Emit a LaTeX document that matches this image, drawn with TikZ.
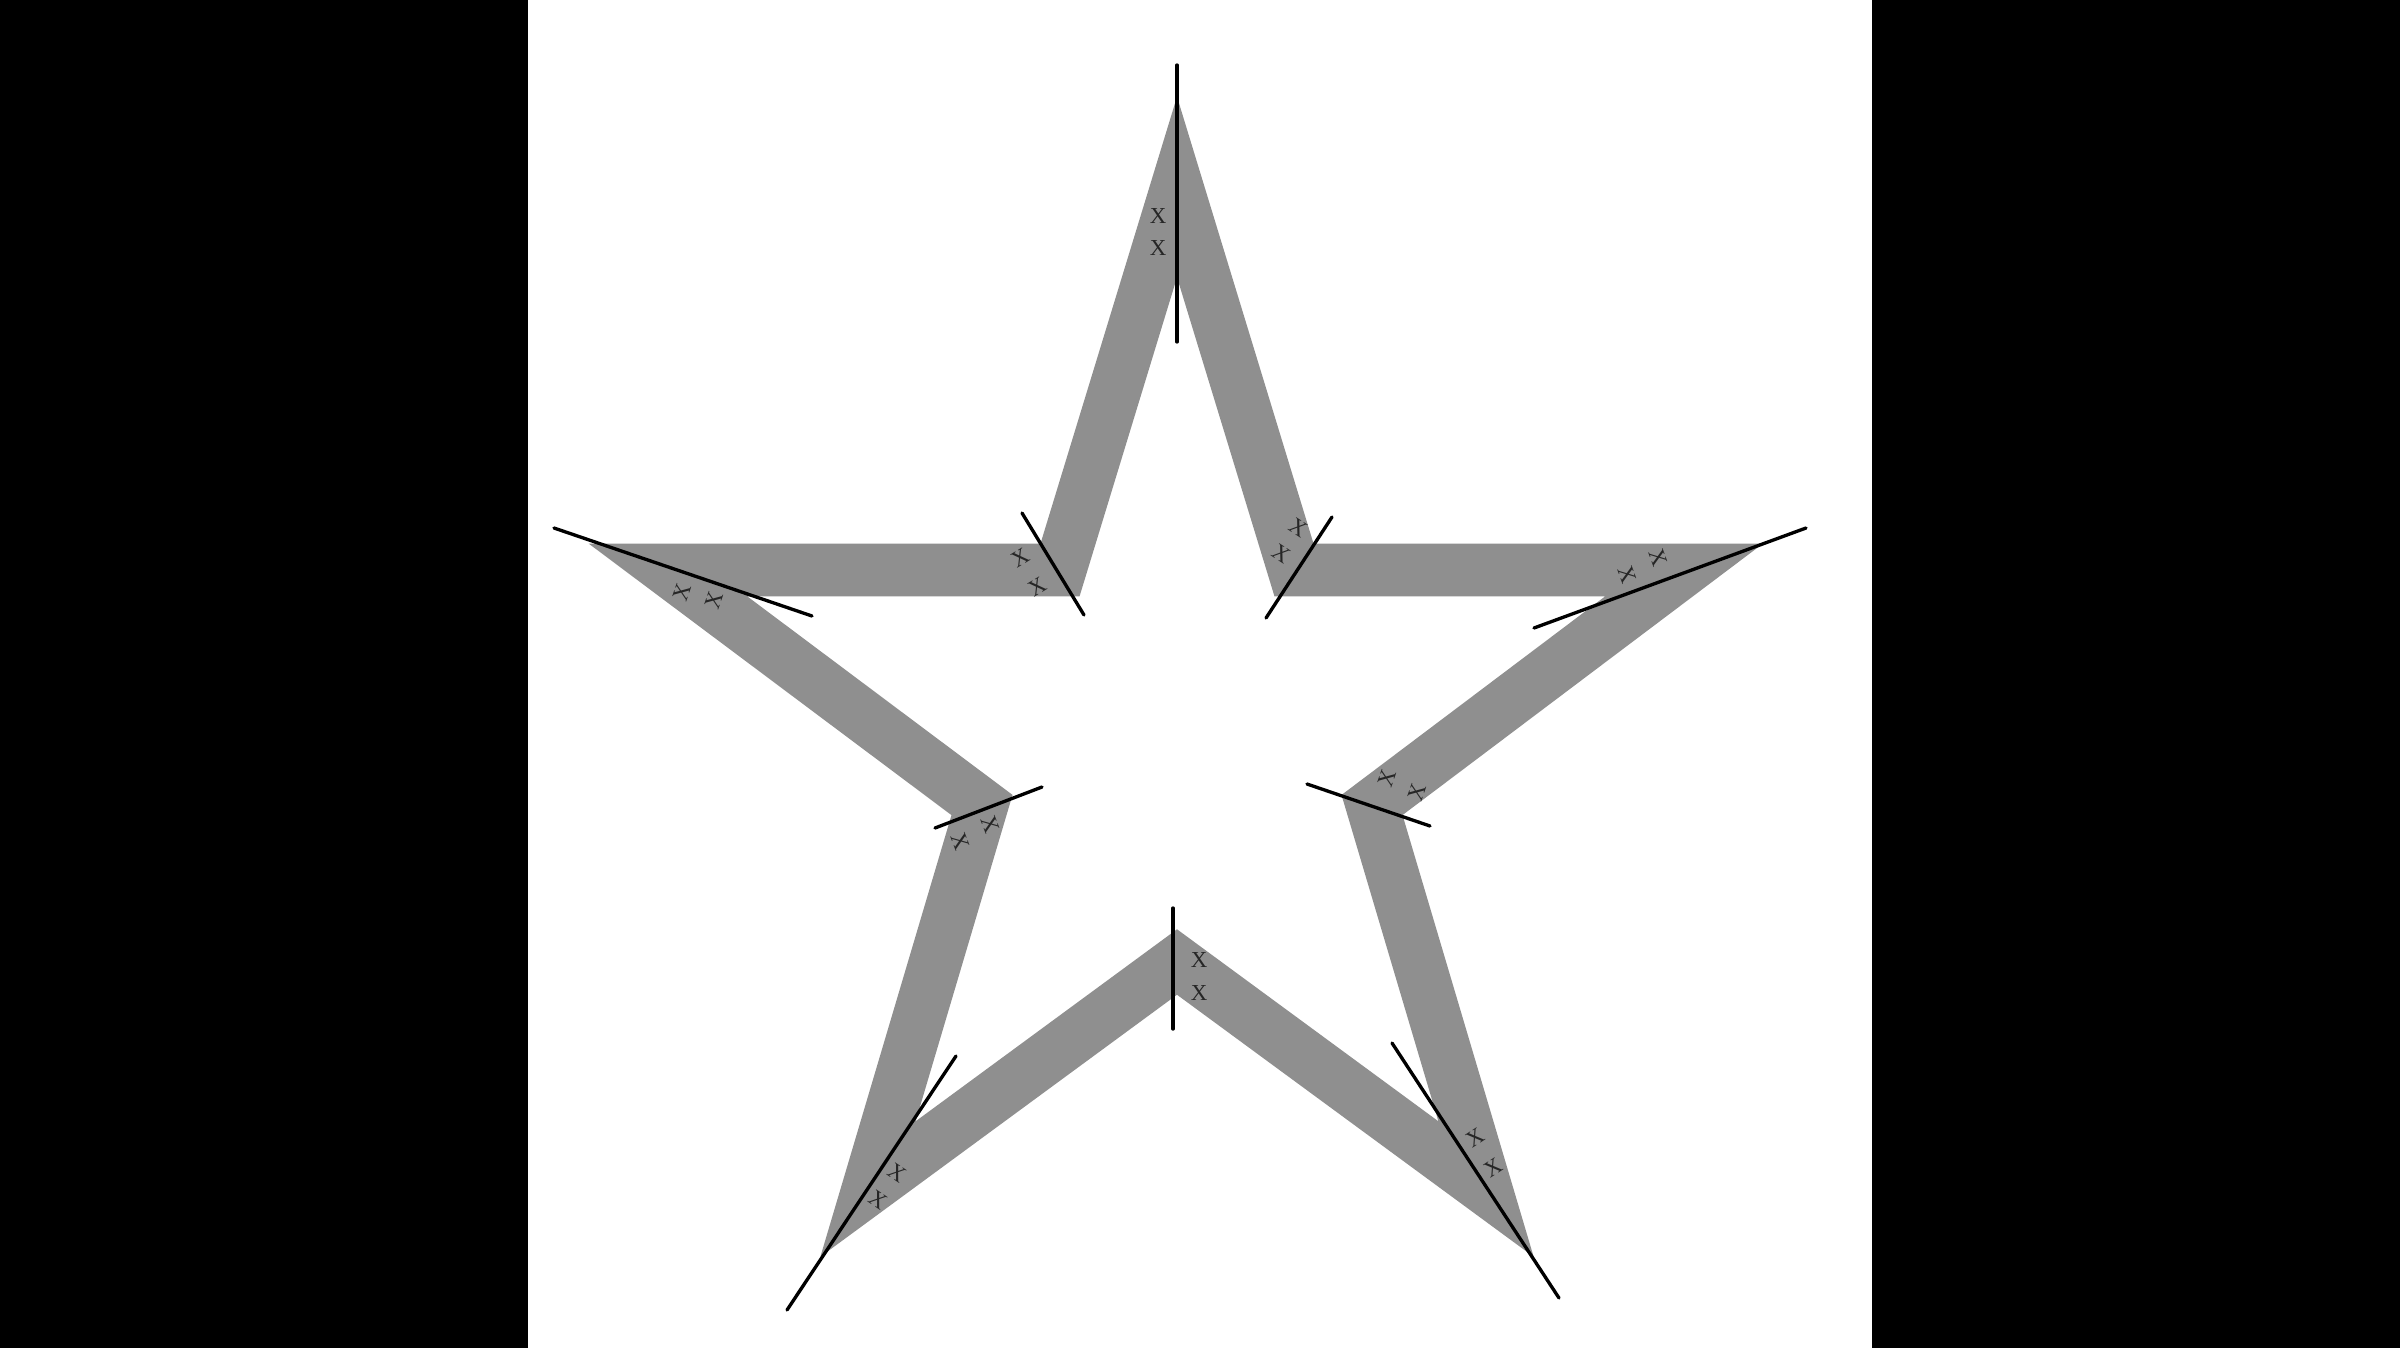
\documentclass[tikz,border=0pt]{standalone}
\usepackage{fontspec}
\setmainfont{Liberation Serif}
\definecolor{bandgray}{RGB}{143,143,143}
\begin{document}
\begin{tikzpicture}[x=0.01cm,y=-0.01cm,
  band/.style={draw=bandgray,line width=15pt,line join=miter,miter limit=10},
  cutline/.style={draw=black,line width=0.95pt,line cap=round},
  xmark/.style={inner sep=0pt,font=\fontsize{6.5}{7}\selectfont,text=black!85}]
\fill[black] (0,0) rectangle (2400,1348);
\fill[white] (528,0) rectangle (1872,1348);
\useasboundingbox (0,0) rectangle (2400,1348);
% star centre line
\coordinate (T)  at (1177,187);
\coordinate (UR) at (1294,570);
\coordinate (R)  at (1684,570);
\coordinate (LR) at (1372,805);
\coordinate (BR) at (1486,1189);
\coordinate (B)  at (1177,962);
\coordinate (BL) at (868,1189);
\coordinate (LL) at (982,805);
\coordinate (L)  at (668,570);
\coordinate (UL) at (1060,570);
\path[band] (T)--(UR)--(R)--(LR)--(BR)--(B)--(BL)--(LL)--(L)--(UL)--cycle;
% cut lines
\coordinate (c1a) at (1177,65);   \coordinate (c1b) at (1177,342);
\coordinate (c2a) at (1022,513);  \coordinate (c2b) at (1084,615);
\coordinate (c3a) at (554,528);   \coordinate (c3b) at (812,616);
\coordinate (c4a) at (1266,618);  \coordinate (c4b) at (1332,517);
\coordinate (c5a) at (1534,628);  \coordinate (c5b) at (1806,528);
\coordinate (c6a) at (935,828);   \coordinate (c6b) at (1042,787);
\coordinate (c7a) at (1307,784);  \coordinate (c7b) at (1430,826);
\coordinate (c8a) at (1173,908);  \coordinate (c8b) at (1173,1029);
\coordinate (c9a) at (787,1310);  \coordinate (c9b) at (956,1056);
\coordinate (c10a) at (1392,1043); \coordinate (c10b) at (1559,1298);
\foreach \i in {1,...,10} {\path[cutline] (c\i a)--(c\i b);}
% marks
\node[xmark] (x1a) at (1158,216) {X};
\node[xmark] (x1b) at (1158,248) {X};
\node[xmark,rotate=31] (x2a) at (1020,558) {X};
\node[xmark,rotate=31] (x2b) at (1037,587) {X};
\node[xmark,rotate=71] (x3a) at (682,592) {X};
\node[xmark,rotate=71] (x3b) at (714,600) {X};
\node[xmark,rotate=-33] (x4a) at (1298,528) {X};
\node[xmark,rotate=-33] (x4b) at (1281,554) {X};
\node[xmark,rotate=-70] (x5a) at (1627,575) {X};
\node[xmark,rotate=-70] (x5b) at (1658,558) {X};
\node[xmark,rotate=-69] (x6a) at (960,842) {X};
\node[xmark,rotate=-69] (x6b) at (990,825) {X};
\node[xmark,rotate=71] (x7a) at (1387,778) {X};
\node[xmark,rotate=71] (x7b) at (1417,792) {X};
\node[xmark] (x8a) at (1199,960) {X};
\node[xmark] (x8b) at (1199,993) {X};
\node[xmark,rotate=-34] (x9a) at (878,1200) {X};
\node[xmark,rotate=-34] (x9b) at (897,1173) {X};
\node[xmark,rotate=33] (x10a) at (1475,1138) {X};
\node[xmark,rotate=33] (x10b) at (1493,1168) {X};
\end{tikzpicture}
\end{document}
